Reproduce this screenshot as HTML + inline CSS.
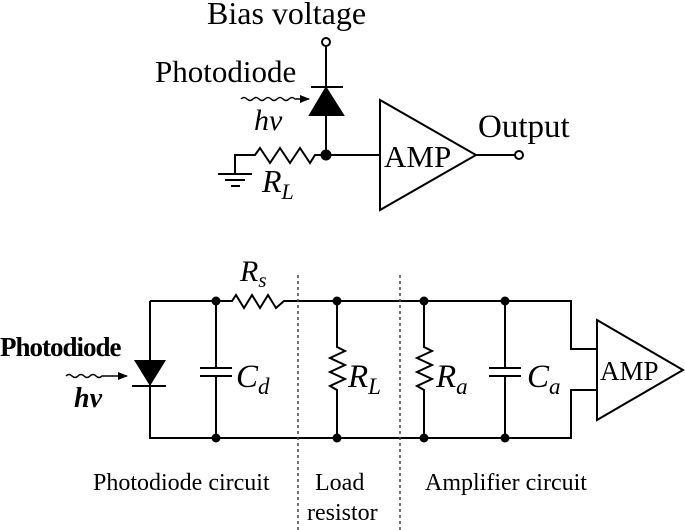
<!DOCTYPE html>
<html><head><style>body{margin:0;background:#fff}svg{display:block}</style></head><body>
<svg width="685" height="530" viewBox="0 0 685 530" xmlns="http://www.w3.org/2000/svg" font-family="Liberation Serif, serif" fill="none" stroke="#000" stroke-width="2">
<defs><marker id="ah" markerWidth="10" markerHeight="8" refX="9" refY="4" orient="auto" markerUnits="userSpaceOnUse"><path d="M0,0 L10,4 L0,8 Z" fill="#000" stroke="none"/></marker></defs>
<!-- TOP -->
<circle cx="326" cy="42" r="4" fill="#fff"/>
<line x1="326" y1="46" x2="326" y2="155"/>
<line x1="311" y1="87" x2="343" y2="87"/>
<path d="M326,88 L310,115 L343,115 Z" fill="#000"/>
<path d="M241,99 q3,-3 6,0 t6,0 t6,0 t6,0 t6,0 t6,0 t6,0 t6,0 t6,0 L309,99" stroke-width="1.5" marker-end="url(#ah)"/>
<circle cx="326" cy="155" r="4.5" fill="#000"/>
<path d="M235,173 L235,155 L255,155 L260,148 L270,163 L280,148 L290,163 L300,148 L310,163 L315,155 L326,155 L379,155"/>
<line x1="218" y1="174" x2="252" y2="174"/><line x1="225" y1="180" x2="245" y2="180"/><line x1="231" y1="186" x2="240" y2="186"/>
<path d="M380,100 L476,155 L380,210 Z"/>
<line x1="476" y1="155" x2="515" y2="155"/>
<circle cx="519" cy="155" r="4" fill="#fff"/>
<g stroke="none" fill="#000">
<text x="207" y="24" font-size="32">Bias voltage</text>
<text x="155" y="82" font-size="31">Photodiode</text>
<text x="254" y="130" font-size="30" font-style="italic">hv</text>
<text x="262" y="192" font-size="32" font-style="italic">R<tspan font-size="22" dy="7">L</tspan></text>
<text x="478" y="137" font-size="33">Output</text>
<text x="384" y="167" font-size="31">AMP</text>
</g>
<!-- BOTTOM -->
<path d="M150,301 L150,438 L571,438 L571,390 L597,390"/>
<path d="M150,301 L232,301 L236,295 L244,308 L252,295 L260,308 L268,295 L276,308 L284,301 L571,301 L571,349 L597,349"/>
<path d="M150,360 L134,360 L150,386 L166,360 Z" fill="#000" stroke="none"/>
<line x1="132" y1="386" x2="166" y2="386"/>
<path d="M66,376 q3,-3 6,0 t6,0 t6,0 t6,0 t6,0 t6,0 L127,376" stroke-width="1.5" marker-end="url(#ah)"/>
<line x1="216" y1="301" x2="216" y2="368"/><line x1="216" y1="376" x2="216" y2="438"/>
<line x1="200" y1="368" x2="232" y2="368"/><line x1="200" y1="376" x2="232" y2="376"/>
<line x1="505" y1="301" x2="505" y2="368"/><line x1="505" y1="376" x2="505" y2="438"/>
<line x1="489" y1="368" x2="521" y2="368"/><line x1="489" y1="376" x2="521" y2="376"/>
<path d="M337,301 L337,347 L345,351 L330,358 L345,365 L330,372 L345,379 L330,386 L337,390 L337,438"/>
<path d="M424,301 L424,347 L432,351 L417,358 L432,365 L417,372 L432,379 L417,386 L424,390 L424,438"/>
<g fill="#000" stroke="none">
<circle cx="216" cy="301" r="4.5"/><circle cx="216" cy="438" r="4.5"/>
<circle cx="337" cy="301" r="4.5"/><circle cx="337" cy="438" r="4.5"/>
<circle cx="424" cy="301" r="4.5"/><circle cx="424" cy="438" r="4.5"/>
<circle cx="505" cy="301" r="4.5"/><circle cx="505" cy="438" r="4.5"/>
</g>
<path d="M597,320 L683,370 L597,420 Z" fill="#fff"/>
<line x1="298" y1="275" x2="298" y2="530" stroke-width="1.5" stroke-dasharray="3,3" stroke="#444"/>
<line x1="400" y1="275" x2="400" y2="530" stroke-width="1.5" stroke-dasharray="3,3" stroke="#444"/>
<g stroke="none" fill="#000">
<text x="0" y="356" font-size="27" font-weight="bold" letter-spacing="-1">Photodiode</text>
<text x="74" y="407" font-size="28" font-style="italic" font-weight="bold">hv</text>
<text x="240" y="281" font-size="30" font-style="italic">R<tspan font-size="21" dy="6">s</tspan></text>
<text x="236" y="387" font-size="33" font-style="italic">C<tspan font-size="23" dy="7">d</tspan></text>
<text x="348" y="387" font-size="33" font-style="italic">R<tspan font-size="23" dy="7">L</tspan></text>
<text x="436" y="387" font-size="33" font-style="italic">R<tspan font-size="23" dy="7">a</tspan></text>
<text x="527" y="387" font-size="33" font-style="italic">C<tspan font-size="23" dy="7">a</tspan></text>
<text x="600" y="380" font-size="27">AMP</text>
<text x="93" y="490" font-size="24">Photodiode circuit</text>
<text x="315" y="490" font-size="24">Load</text>
<text x="307" y="520" font-size="24">resistor</text>
<text x="425" y="490" font-size="24">Amplifier circuit</text>
</g>
</svg>
</body></html>
